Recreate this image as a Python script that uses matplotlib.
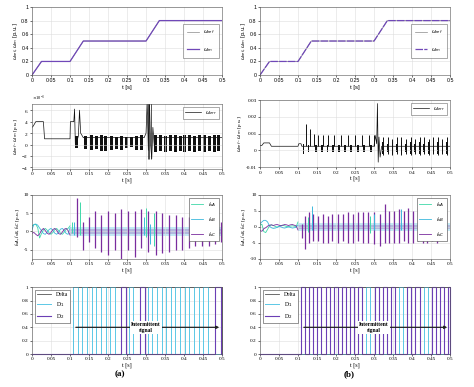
import numpy as np
import matplotlib
matplotlib.use("Agg")
import matplotlib.pyplot as plt
from matplotlib.ticker import ScalarFormatter

# ---------------- data ----------------
t_ticks = [0, 0.05, 0.1, 0.15, 0.2, 0.25, 0.3, 0.35, 0.4, 0.45, 0.5]
t_ticklabels = ["0", "0.05", "0.1", "0.15", "0.2", "0.25", "0.3", "0.35", "0.4", "0.45", "0.5"]

# speed references (same in a and b)
speed_t = [0, 0.025, 0.1, 0.135, 0.3, 0.335, 0.5]
speed_ref = [0, 0.2, 0.2, 0.5, 0.5, 0.8, 0.8]
speed_m = [0, 0.2, 0.2, 0.5, 0.5, 0.8, 0.8]

# speed error (a), x1e-3
err_a_t = [0, 0.003, 0.01, 0.03, 0.033, 0.1, 0.101, 0.11, 0.112, 0.114, 0.118, 0.122,
           0.125, 0.128, 0.135, 0.295, 0.3, 0.303, 0.306, 0.309, 0.312, 0.315, 0.318, 0.322, 0.325, 0.5]
err_a_v = [3, 3.2, 4, 4, 1, 1, 4, 4, 6.2, 0, 0.5, 1.5,
           6, 2, 1.2, 1.2, 2, 7.5, -1, 7.5, 0, -2.5, 3, -0.5, 1.2, 1.2]
burst_a_t = [0.114, 0.138, 0.152, 0.165, 0.178, 0.19, 0.205, 0.218, 0.232, 0.245, 0.258, 0.272, 0.285,
             0.322, 0.335, 0.348, 0.36, 0.373, 0.386, 0.398, 0.41, 0.423, 0.436, 0.449, 0.462, 0.475, 0.487]
burst_a_lo = [-0.6, -0.8, -1.0, -0.7, -1.1, -1.2, -0.9, -0.7, -1.0, -0.6, -0.5, -0.9, -1.0,
              -1.3, -1.2, -1.3, -1.1, -1.3, -1.2, -1.3, -1.1, -1.3, -1.2, -1.3, -1.2, -1.3, -1.2]
burst_a_hi = [1.5, 1.5, 1.6, 1.5, 1.6, 1.5, 1.5, 1.4, 1.5, 1.4, 1.3, 1.5, 1.6,
              1.6, 1.6, 1.5, 1.6, 1.6, 1.5, 1.6, 1.6, 1.5, 1.6, 1.6, 1.5, 1.6, 1.6]

# speed error (b)
err_b_t = [0, 0.005, 0.01, 0.025, 0.03, 0.1, 0.102, 0.108, 0.11, 0.3, 0.303, 0.307,
           0.309, 0.311, 0.313, 0.316, 0.32, 0.5]
err_b_v = [0.003, 0.003, 0.0045, 0.0045, 0.0025, 0.0025, 0.004, 0.004, 0.0025, 0.0025, 0.009, 0.004,
           0.028, -0.007, 0.008, -0.004, 0.0025, 0.0025]
spk_b_t = [0.121, 0.131, 0.141, 0.152, 0.165, 0.178, 0.196, 0.214, 0.232, 0.25, 0.268, 0.286, 0.3,
           0.324, 0.336, 0.348, 0.36, 0.372, 0.384, 0.396, 0.408, 0.42, 0.432, 0.444, 0.456, 0.468, 0.48, 0.492]
spk_b_hi = [0.016, 0.013, 0.01, 0.009, 0.009, 0.009, 0.009, 0.009, 0.009, 0.009, 0.009, 0.009, 0.009,
            0.008, 0.008, 0.007, 0.008, 0.008, 0.007, 0.008, 0.007, 0.008, 0.008, 0.007, 0.008, 0.008, 0.007, 0.008]
spk_b_lo = [0.0025, 0.0025, 0.0025, 0.0025, 0.0025, 0.0025, 0.0025, 0.0025, 0.0025, 0.0025, 0.0025, 0.0025, 0.0025,
            -0.003, -0.002, -0.003, -0.002, -0.003, -0.002, -0.003, -0.002, -0.003, -0.002, -0.003, -0.002, -0.003, -0.002, -0.003]
burst_b_t = [0.112, 0.125, 0.145, 0.16, 0.175, 0.19, 0.205, 0.22, 0.237, 0.255, 0.272, 0.29]
burst_b_lo = [-0.002, -0.001, -0.001, -0.001, -0.001, -0.001, -0.001, -0.001, -0.001, -0.001, -0.001, -0.001]
burst_b_hi = [0.004, 0.003, 0.003, 0.003, 0.003, 0.003, 0.003, 0.003, 0.003, 0.003, 0.003, 0.003]
burst_b2_t = [0.322, 0.334, 0.346, 0.358, 0.37, 0.382, 0.394, 0.406, 0.418, 0.43, 0.442, 0.454, 0.466, 0.478, 0.49]
burst_b2_lo = [-0.002, -0.001, -0.002, -0.001, -0.002, -0.001, -0.002, -0.001, -0.002, -0.001, -0.002, -0.001, -0.002, -0.001, -0.002]
burst_b2_hi = [0.005, 0.004, 0.005, 0.004, 0.005, 0.004, 0.005, 0.004, 0.005, 0.004, 0.005, 0.004, 0.005, 0.004, 0.005]

# stator currents, start-up part (0 .. 0.1 s)
cur_t = [0, 0.005, 0.01, 0.015, 0.02, 0.025, 0.03, 0.035, 0.04, 0.045, 0.05,
         0.055, 0.06, 0.065, 0.07, 0.075, 0.08, 0.085, 0.09, 0.095, 0.1]
isA_a = [1.5, 1.8, 1.9, 1.0, -1.8, -0.6, 0.4, 0.8, 0.3, -0.4, -0.8, -0.3, 0.5, 0.8, 0.2, -0.5, -0.8, -0.2, 0.6, 0.8, 1.5]
isB_a = [0.5, 1.9, 2.0, 1.7, 0.9, 0.2, -0.6, -0.8, -0.2, 0.5, 0.8, 0.3, -0.5, -0.8, -0.2, 0.6, 0.8, 0.2, -0.6, -0.8, 1.0]
isC_a = [-0.5, -0.3, -0.8, -1.2, -0.7, 0.3, 0.8, 0.2, -0.5, -0.8, -0.3, 0.5, 0.8, 0.3, -0.6, -0.8, -0.2, 0.6, 0.8, 0.2, -1.0]
isA_b = [0.5, 0.8, -1.5, -1.8, -0.8, 0.3, 0.6, 0.4, 0.1, -0.1, 0.1, 0.4, 0.5, 0.3, 0.1, 0.0, 0.2, 0.3, 0.2, 0.0, 1.5]
isB_b = [1.0, 1.5, 2.0, 2.0, 1.5, 0.2, -0.3, -0.5, -0.4, -0.2, 0.1, 0.0, -0.3, -0.4, -0.2, 0.0, -0.2, -0.4, -0.3, -0.2, 0.5]
isC_b = [-1.2, -1.4, -0.6, -0.3, 0.2, 0.5, 0.6, 0.4, 0.6, 0.7, 0.5, 0.3, 0.5, 0.7, 0.6, 0.4, 0.6, 0.7, 0.5, 0.3, -1.0]

# stator current spikes after 0.1 s
isC_a_spk_t = [0.118, 0.135, 0.15, 0.165, 0.182, 0.2, 0.218, 0.235, 0.252, 0.27, 0.288, 0.305,
               0.325, 0.342, 0.36, 0.378, 0.395, 0.412, 0.43, 0.448, 0.465, 0.482, 0.498]
isC_a_spk_hi = [9, 2.5, 4, 5.5, 4.5, 5.5, 5, 6, 5.5, 5.5, 6, 5.5, 5.5, 5, 4.5, 4.5, 4, 4, 3.5, 3.5, 3, 3, 2.5]
isC_a_spk_lo = [-1.5, -5, -3, -4.5, -5.5, -6.5, -5, -7.5, -5, -7, -4.5, -5.5, -6.5, -6, -5.5, -5, -5, -4.5, -4, -4, -4, -3.5, -3]
isA_a_spk_t = [0.105, 0.125, 0.3, 0.32]
isA_a_spk_hi = [2.5, 8, 6.5, 5]
isA_a_spk_lo = [-0.5, -1, -1.5, -4]
isB_a_spk_t = [0.11, 0.295, 0.31]
isB_a_spk_hi = [2.5, 4, 2]
isB_a_spk_lo = [-1, -1, -3.5]

isC_b_spk_t = [0.11, 0.118, 0.128, 0.14, 0.152, 0.165, 0.178, 0.19, 0.205, 0.218, 0.232, 0.245, 0.258, 0.272, 0.285,
               0.3, 0.315, 0.328, 0.34, 0.352, 0.365, 0.378, 0.39, 0.402, 0.415, 0.428, 0.44, 0.452, 0.465, 0.478, 0.49]
isC_b_spk_hi = [1, 3.5, 4.5, 4, 3.5, 4, 3.5, 4, 4, 4, 4.5, 4, 4.5, 4.5, 4.5,
                4.5, 4, 7, 5, 5, 5.5, 5, 6, 5, 5.5, 5, 6, 5.5, 5, 5, 4.5]
isC_b_spk_lo = [-3.5, -7, -5, -4.5, -4.5, -5, -5, -4.5, -5, -4.5, -5, -5, -4.5, -5, -5,
                -5.5, -6, -5, -5, -5, -5, -4.5, -5, -5, -4.5, -5, -5, -4.5, -5, -4, -4]
isB_b_spk_t = [0.138, 0.3, 0.372, 0.445]
isB_b_spk_hi = [6.5, 4, 5.5, 6]
isB_b_spk_lo = [-1, -1, -1, -1]
isA_b_spk_t = [0.125, 0.29]
isA_b_spk_hi = [3, 3.5]
isA_b_spk_lo = [-1.5, -2]

# switching signals: pulse on/off instants
delta_on = [0.108]
delta_off = [0.5]
D1_a_on = [0.108, 0.132, 0.157, 0.181, 0.206, 0.255, 0.304, 0.328, 0.353, 0.377, 0.402, 0.426, 0.451]
D1_a_off = [0.120, 0.145, 0.169, 0.194, 0.218, 0.267, 0.316, 0.341, 0.365, 0.390, 0.414, 0.439, 0.463]
D2_a_on = [0.234, 0.285, 0.482]
D2_a_off = [0.247, 0.298, 0.496]
D1_b_on = [0.280, 0.366, 0.4305]
D1_b_off = [0.2907, 0.3767, 0.4412]
D2_b_on = [0.108, 0.1295, 0.151, 0.1725, 0.194, 0.2155, 0.237, 0.2585, 0.3015, 0.323, 0.3445,
           0.3875, 0.409, 0.452, 0.4735, 0.495]
D2_b_off = [0.1187, 0.1402, 0.1617, 0.1832, 0.2047, 0.2262, 0.2477, 0.2692, 0.3122, 0.3337, 0.3552,
            0.3982, 0.4197, 0.4627, 0.4842, 0.5]

# ---------------- style ----------------
C_PUR = "#7048b8"
C_GRN = "#3fd8a8"
C_CYN = "#3cb8dc"
C_ISC = "#7a2c9e"
C_D1 = "#5cc8e6"
C_D2 = "#6b3fb5"
SERIF = "Liberation Serif"
SANS = "Liberation Sans"
FS = 3.8

fig = plt.figure(figsize=(4.74, 3.87), dpi=100)

xl = [0.0675, 0.5485]
w = 0.401
rows = [(0.806, 0.176), (0.563, 0.167), (0.331, 0.166), (0.085, 0.173)]


def make_ax(col, row, fam):
    b, h = rows[row]
    if row == 1 and col == 1:
        b, h = 0.568, 0.173
    ax = fig.add_axes([xl[col], b, w, h])
    ax.set_xlim(0, 0.5)
    ax.set_xticks(t_ticks)
    ax.set_xticklabels(t_ticklabels)
    ax.grid(True, color="#dddddd", lw=0.4)
    ax.tick_params(labelsize=FS, length=1.2, width=0.4, pad=1.2)
    for lab in ax.get_xticklabels() + ax.get_yticklabels():
        lab.set_family(fam)
    for s in ax.spines.values():
        s.set_linewidth(0.4)
        s.set_color("#555555")
    ax.set_xlabel("t [s]", fontsize=FS + 0.5, family=fam, labelpad=1)
    return ax


def pulses(on, off):
    x = [0.0]
    y = [0.0]
    for s, e in zip(on, off):
        x += [s, s, e, e]
        y += [0, 1, 1, 0]
    x.append(0.5)
    y.append(0)
    return x, y


# ---- row 1: speed ----
for col in range(2):
    ax = make_ax(col, 0, SANS)
    ax.plot(speed_t, speed_ref, color="#888888", lw=0.5, label=r"$\omega_{ref}$")
    ax.plot(speed_t, speed_m, color=C_PUR, lw=0.9, ls="-" if col == 0 else (0, (6, 1)), label=r"$\omega_{m}$")
    ax.set_ylim(0, 1)
    ax.set_yticks([0, 0.2, 0.4, 0.6, 0.8, 1])
    ax.set_yticklabels(["0", "0.2", "0.4", "0.6", "0.8", "1"], family=SANS)
    ax.set_ylabel(r"$\omega_{ref}, \omega_{m}$ [p.u.]", fontsize=FS, labelpad=1)
    ax.legend(loc="center right", fontsize=FS, labelspacing=1.8, handlelength=2.2,
              frameon=True, fancybox=False, edgecolor="#444444", borderpad=0.8).get_frame().set_linewidth(0.4)

# ---- row 2: speed error ----
ax = make_ax(0, 1, SERIF)
ea = np.array(err_a_v) * 1e-3
ax.plot(err_a_t, ea, color="#111111", lw=0.5, label=r"$\omega_{err}$")
for t0, lo, hi in zip(burst_a_t, burst_a_lo, burst_a_hi):
    ax.fill_between([t0, t0 + 0.008], lo * 1e-3, hi * 1e-3, color="#111111", lw=0)
ax.vlines([0.305, 0.309, 0.313], -2.5e-3, 7.5e-3, color="#111111", lw=0.5)
ax.set_ylim(-4.3e-3, 7e-3)
ax.set_yticks(np.array([-4, -2, 0, 2, 4, 6]) * 1e-3)
fmt = ScalarFormatter(useMathText=True)
fmt.set_powerlimits((0, 0))
ax.yaxis.set_major_formatter(fmt)
ax.yaxis.get_offset_text().set_fontsize(FS - 0.6)
ax.yaxis.get_offset_text().set_family(SERIF)
for lab in ax.get_yticklabels():
    lab.set_family(SERIF)
ax.set_ylabel(r"$\omega_{ref}$ - $\omega_{m}$ [p.u.]", fontsize=FS, family=SERIF, labelpad=1)
lg = ax.legend(loc="upper right", handlelength=3, fancybox=False, edgecolor="#444444",
               prop={"family": SERIF, "size": FS})
lg.get_frame().set_linewidth(0.4)

ax = make_ax(1, 1, SERIF)
ax.plot(err_b_t, err_b_v, color="#111111", lw=0.5, label=r"$\omega_{err}$")
ax.vlines(spk_b_t, spk_b_lo, spk_b_hi, color="#111111", lw=0.7)
for t0, lo, hi in zip(burst_b_t, burst_b_lo, burst_b_hi):
    ax.fill_between([t0, t0 + 0.005], lo, hi, color="#111111", lw=0)
for t0, lo, hi in zip(burst_b2_t, burst_b2_lo, burst_b2_hi):
    ax.fill_between([t0, t0 + 0.004], lo, hi, color="#111111", lw=0)
ax.set_ylim(-0.01, 0.03)
ax.set_yticks([-0.01, 0, 0.01, 0.02, 0.03])
ax.set_yticklabels(["-0.01", "0", "0.01", "0.02", "0.03"], family=SERIF)
ax.set_ylabel(r"$\omega_{ref}$ - $\omega_{m}$ [p.u.]", fontsize=FS, family=SERIF, labelpad=1)
lg = ax.legend(loc="upper right", handlelength=3, fancybox=False, edgecolor="#444444",
               prop={"family": SERIF, "size": FS})
lg.get_frame().set_linewidth(0.4)

# ---- row 3: currents ----
cur_sets = [
    (isA_a, isB_a, isC_a, isA_a_spk_t, isA_a_spk_lo, isA_a_spk_hi, isB_a_spk_t, isB_a_spk_lo, isB_a_spk_hi,
     isC_a_spk_t, isC_a_spk_lo, isC_a_spk_hi, (-7.5, 10), [-5, 0, 5, 10]),
    (isA_b, isB_b, isC_b, isA_b_spk_t, isA_b_spk_lo, isA_b_spk_hi, isB_b_spk_t, isB_b_spk_lo, isB_b_spk_hi,
     isC_b_spk_t, isC_b_spk_lo, isC_b_spk_hi, (-10, 10), [-10, -5, 0, 5, 10]),
]
for col, cs in enumerate(cur_sets):
    (iA, iB, iC, aT, aL, aH, bT, bL, bH, cT, cL, cH, yl, yt) = cs
    ax = make_ax(col, 2, SERIF)
    ax.plot(cur_t, iA, color=C_GRN, lw=0.6, label=r"$i_{sA}$")
    ax.plot(cur_t, iB, color=C_CYN, lw=0.6, label=r"$i_{sB}$")
    ax.plot(cur_t, iC, color=C_ISC, lw=0.6, label=r"$i_{sC}$")
    ax.fill_between([0.1, 0.5], -1.2, 1.2, color=C_CYN, alpha=0.3, lw=0)
    ax.fill_between([0.1, 0.5], -0.7, 0.7, color=C_ISC, alpha=0.25, lw=0)
    ax.vlines(cT, cL, cH, color=C_ISC, lw=0.9)
    ax.vlines(bT, bL, bH, color=C_CYN, lw=0.7)
    ax.vlines(aT, aL, aH, color=C_GRN, lw=0.7)
    ax.set_ylim(*yl)
    ax.set_yticks(yt)
    ax.set_yticklabels([str(v) for v in yt], family=SERIF)
    ax.set_ylabel(r"$i_{sA}, i_{sB}, i_{sC}$ [p.u.]", fontsize=FS, family=SERIF, labelpad=1)
    lg = ax.legend(loc="upper right", labelspacing=1.0, handlelength=2.0, fancybox=False,
                   edgecolor="#444444", framealpha=1, prop={"family": SERIF, "size": FS + 0.5})
    lg.get_frame().set_linewidth(0.4)

# ---- row 4: switching signals ----
sw_sets = [(D1_a_on, D1_a_off, D2_a_on, D2_a_off), (D1_b_on, D1_b_off, D2_b_on, D2_b_off)]
for col, (d1on, d1off, d2on, d2off) in enumerate(sw_sets):
    ax = make_ax(col, 3, SERIF)
    x, y = pulses(delta_on, delta_off)
    ax.plot(x, y, color="#555555", lw=0.6, label="Delta", clip_on=False)
    x, y = pulses(d1on, d1off)
    ax.plot(x, y, color=C_D1, lw=0.7, label=r"D$_1$", clip_on=False)
    x, y = pulses(d2on, d2off)
    ax.plot(x, y, color=C_D2, lw=0.8, label=r"D$_2$", clip_on=False)
    ax.set_ylim(0, 1)
    ax.set_yticks([0, 0.2, 0.4, 0.6, 0.8, 1])
    ax.set_yticklabels(["0", "0.2", "0.4", "0.6", "0.8", "1"], family=SERIF)
    ax.annotate("", xy=(0.5, 0.4), xytext=(0.108, 0.4),
                arrowprops=dict(arrowstyle="-|>", color="#222222", lw=0.9, mutation_scale=4))
    ax.text(0.3, 0.4, "Intermittent\nsignal", ha="center", va="center", fontsize=FS + 0.3,
            family=SERIF, fontweight="bold", linespacing=1.3,
            bbox=dict(facecolor="white", edgecolor="none", pad=0.8))
    lg = ax.legend(loc="upper left", labelspacing=0.5, handlelength=2.5, fancybox=False,
                   edgecolor="#444444", framealpha=1, prop={"family": SERIF, "size": FS + 0.3})
    lg.get_frame().set_linewidth(0.4)

fig.text(0.2675 - 0.015, 0.027, "(a)", fontsize=6.5, family=SERIF, fontweight="bold", ha="center")
fig.text(0.7485 - 0.013, 0.027, "(b)", fontsize=6.5, family=SERIF, fontweight="bold", ha="center")

fig.savefig("out.png", dpi=100)
